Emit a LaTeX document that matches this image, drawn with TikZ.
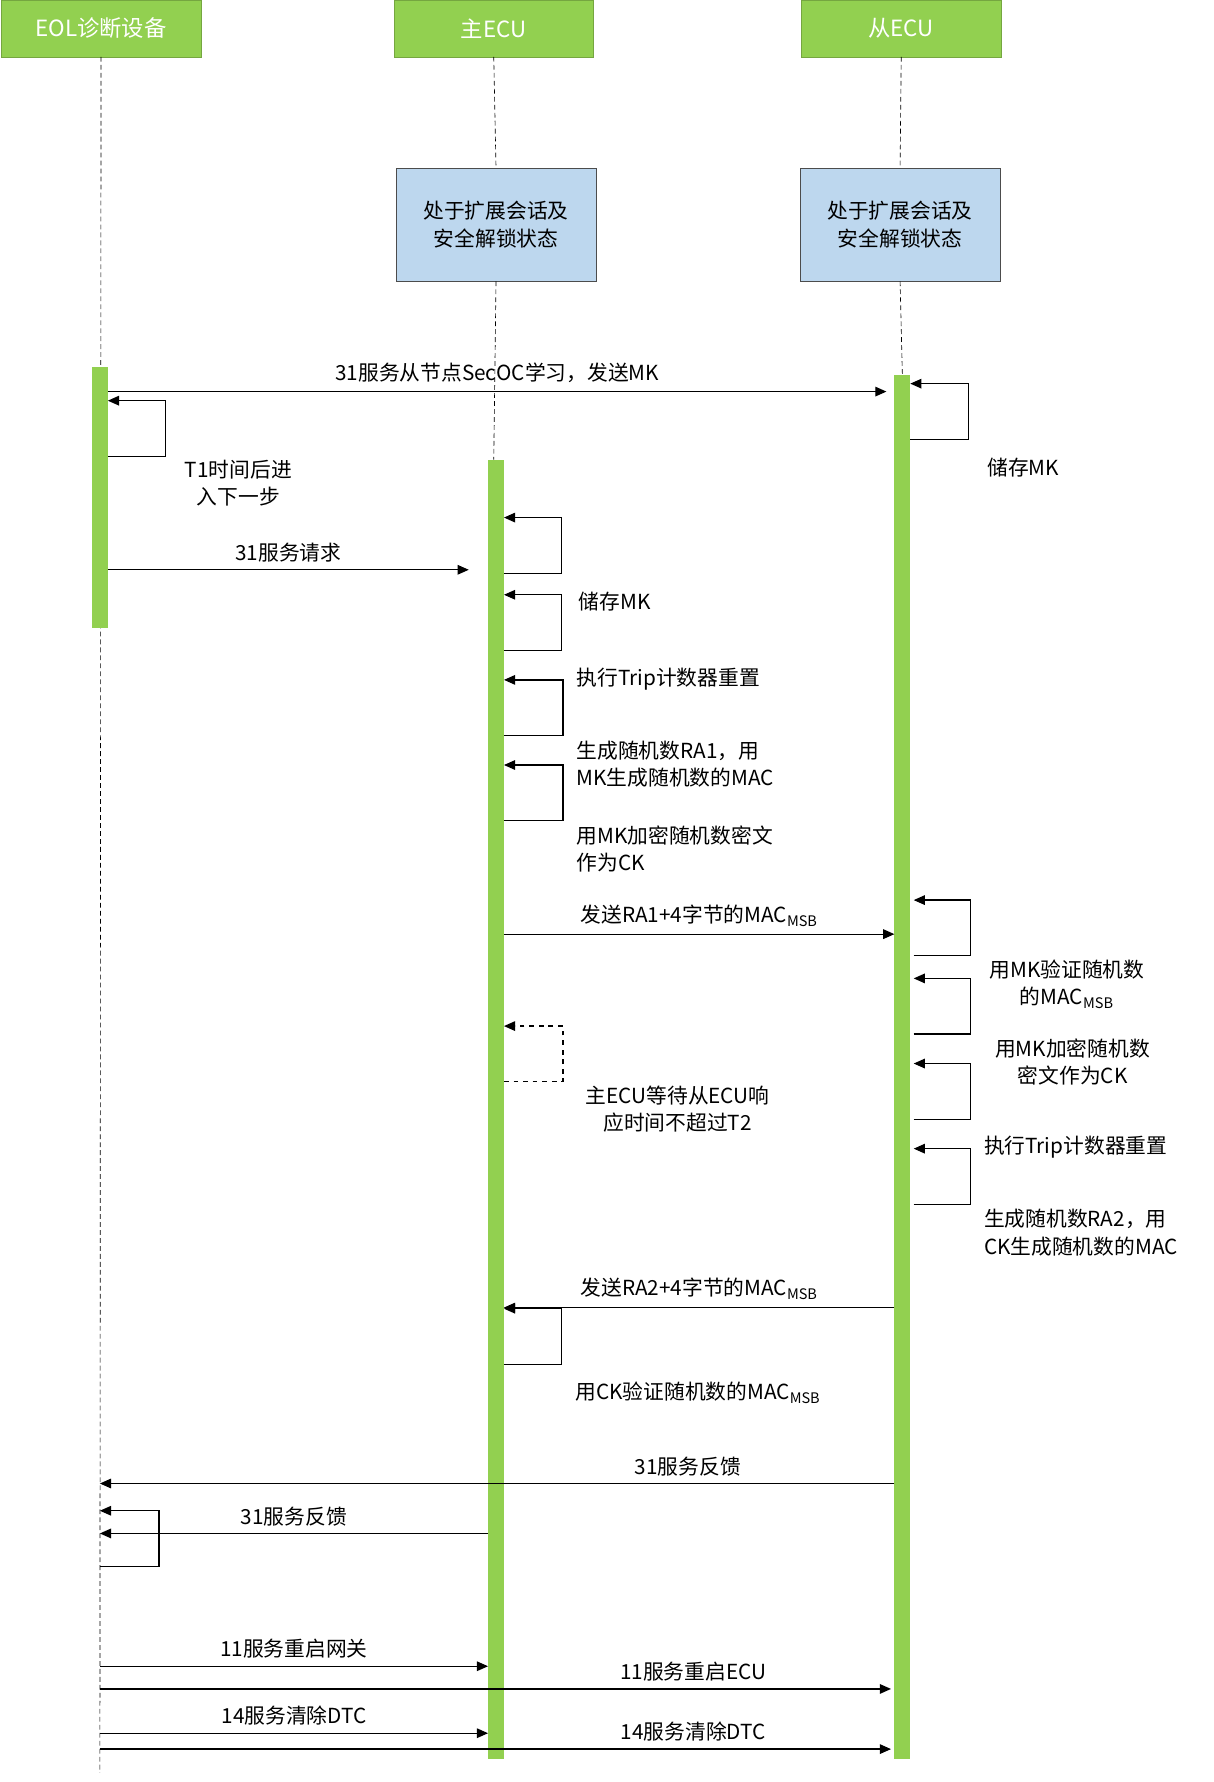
\documentclass[tikz,border=0pt]{standalone}
\usepackage{fontspec}
\setmainfont{Noto Sans CJK SC}
\usetikzlibrary{arrows.meta}
\definecolor{headgreen}{RGB}{146,208,80}
\definecolor{stateblue}{RGB}{189,215,238}
\newcommand{\selfloop}[4][solid]{% style, x, ytop, xright
  \draw[msg,#1] (#2,#3) -- (#4,#3) -- (#4,#3-49) -- (#2,#3-49);}
\begin{document}
\begin{tikzpicture}[x=0.025cm,y=-0.025cm,
    head/.style={fill=headgreen,draw=headgreen!80!black,very thin,text=white,minimum width=4.4cm,minimum height=1.25cm,font=\fontsize{14}{16}\selectfont},
    state/.style={fill=stateblue,draw=black!70,thin,minimum width=4.4cm,minimum height=2.48cm,align=center,font=\fontsize{13}{18}\selectfont},
    life/.style={densely dashed,thin},
    bar/.style={fill=headgreen,draw=none},
    msg/.style={thick,-{Triangle[length=7pt,width=6pt]}},
    lbl/.style={font=\fontsize{13}{17}\selectfont,align=left}]
  \useasboundingbox (0,0) rectangle (1069,1570);
  % heads
  \node[head] (eol) at (89,25) {EOL诊断设备};
  \node[head] (mecu) at (435,25) {主ECU};
  \node[head] (secu) at (794,25) {从ECU};
  \node[state] (mstate) at (437,198) {处于扩展会话及\\安全解锁状态};
  \node[state] (sstate) at (793,198) {处于扩展会话及\\安全解锁状态};
  % lifelines
  \draw[life] (eol.south) -- (88,1562);
  \draw[life] (mecu.south) -- (mstate.north);
  \draw[life] (mstate.south) -- (435,405);
  \draw[life] (secu.south) -- (sstate.north);
  \draw[life] (sstate.south) -- (795,330);
  % activation bars
  \fill[bar] (81,323) rectangle (95,553);
  \fill[bar] (430,405) rectangle (444,1550);
  \fill[bar] (788,330) rectangle (802,1550);
  % messages
  \draw[msg] (95,345) -- (781,345) node[lbl,midway,above=2pt] {31服务从节点SecOC学习，发送MK};
  \selfloop{95}{402}{146}
  \node[lbl,align=center] at (210,426) {T1时间后进\\入下一步};
  \draw[msg] (95,502) -- (413,502) node[lbl,midway,above=1pt] {31服务请求};
  \selfloop{802}{387}{853}
  \node[lbl,anchor=west] at (865,412) {储存MK};
  \selfloop{444}{505}{495}
  \node[lbl,anchor=west] at (505,530) {储存MK};
  \selfloop{444}{573}{495}
  \node[lbl,anchor=west] at (503,598) {执行Trip计数器重置};
  \selfloop{444}{648}{496}
  \node[lbl,anchor=west] at (503,673) {生成随机数RA1，用\\MK生成随机数的MAC};
  \selfloop{444}{723}{496}
  \node[lbl,anchor=west] at (503,748) {用MK加密随机数密文\\作为CK};
  \draw[msg] (444,823) -- (788,823) node[lbl,midway,above=1pt] {发送RA1+4字节的MAC\textsubscript{MSB}};
  \selfloop{805}{842}{855}
  \node[lbl,align=center] at (940,867) {用MK验证随机数\\的MAC\textsubscript{MSB}};
  \selfloop{805}{911}{855}
  \node[lbl,align=center] at (945,936) {用MK加密随机数\\密文作为CK};
  \selfloop{805}{986}{855}
  \node[lbl,anchor=west] at (862,1011) {执行Trip计数器重置};
  \selfloop{805}{1061}{855}
  \node[lbl,anchor=west] at (862,1086) {生成随机数RA2，用\\CK生成随机数的MAC};
  \selfloop[dashed]{444}{953}{496}
  \node[lbl,align=center] at (597,977) {主ECU等待从ECU响\\应时间不超过T2};
  \draw[msg] (788,1152) -- (444,1152) node[lbl,midway,above=1pt] {发送RA2+4字节的MAC\textsubscript{MSB}};
  \selfloop{444}{1202}{495}
  \node[lbl,anchor=west] at (502,1227) {用CK验证随机数的MAC\textsubscript{MSB}};
  \draw[msg] (788,1307) -- (88,1307) node[lbl,pos=0.26,above=1pt] {31服务反馈};
  \draw[msg] (430,1351) -- (88,1351) node[lbl,midway,above=1pt] {31服务反馈};
  \selfloop{88}{1380}{140}
  \draw[msg] (88,1468) -- (430,1468) node[lbl,midway,above=1pt] {11服务重启网关};
  \draw[msg] (88,1488) -- (785,1488) node[lbl,pos=0.75,above=1pt] {11服务重启ECU};
  \draw[msg] (88,1527) -- (430,1527) node[lbl,midway,above=1pt] {14服务清除DTC};
  \draw[msg] (88,1541) -- (785,1541) node[lbl,pos=0.75,above=1pt] {14服务清除DTC};
\end{tikzpicture}
\end{document}
